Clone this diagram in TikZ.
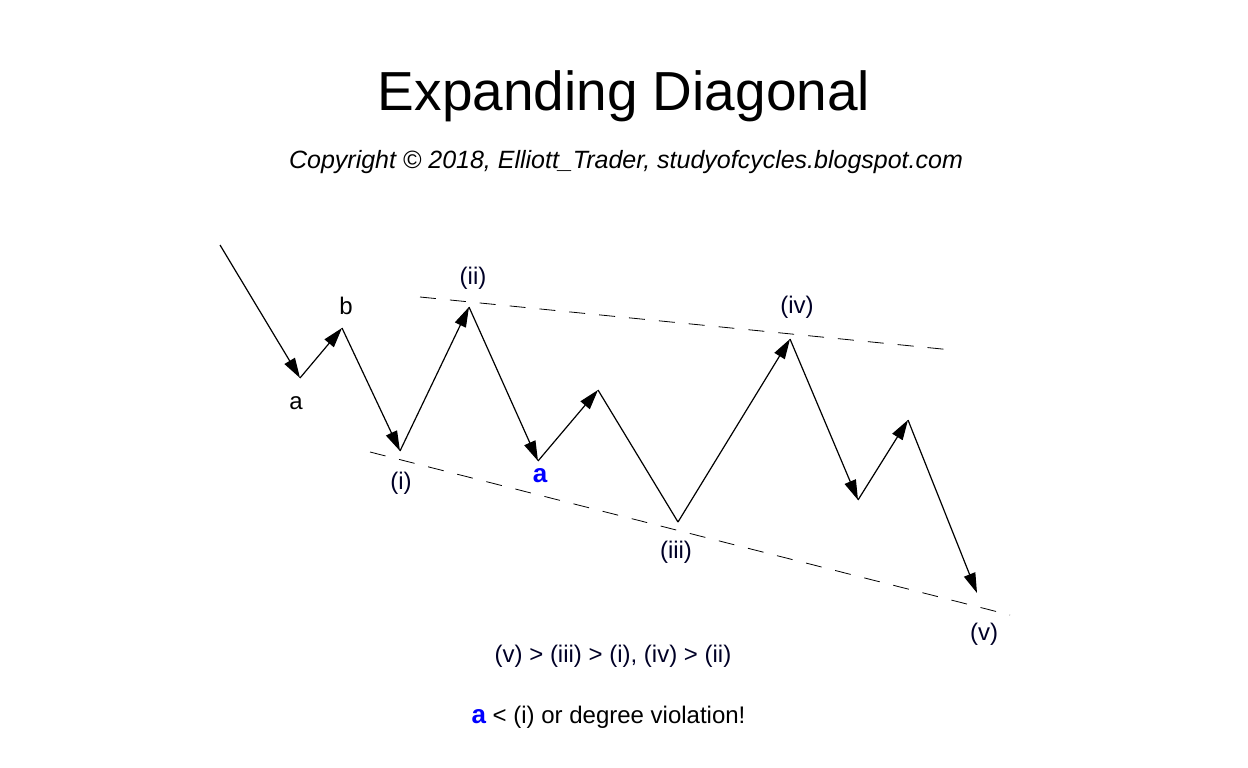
\documentclass[tikz,border=0pt]{standalone}
\usepackage{fontspec}
\setmainfont{Liberation Sans}
\usetikzlibrary{arrows.meta}
\begin{document}
\begin{tikzpicture}[x=1pt,y=-1pt,
  wave/.style={line width=1.2pt,-{Triangle[length=20pt,width=12pt]}},
  plain/.style={line width=1.2pt},
  chan/.style={line width=0.8pt,dash pattern=on 16pt off 14pt},
  lbl/.style={font=\fontsize{24}{28}\selectfont,text=black!85!blue},
  pt/.style={inner sep=0pt}]
\useasboundingbox (0,0) rectangle (1248,768);
\node (title) at (624,96) {\fontsize{55}{62}\selectfont Expanding Diagonal};
\node (copy) at (626,162) {\fontsize{25}{29}\selectfont\itshape Copyright © 2018, Elliott\_Trader, studyofcycles.blogspot.com};
\coordinate (s) at (220,245);
\coordinate (a) at (300,378);
\coordinate (b) at (342,328);
\coordinate (p1) at (400,451);
\coordinate (p2) at (469,307);
\coordinate (a2) at (538,461);
\coordinate (b2) at (598,390);
\coordinate (p3) at (678,522);
\coordinate (p4) at (790,339);
\coordinate (c1) at (858,500);
\coordinate (c2) at (908,420);
\coordinate (p5) at (977,593);
\draw[wave] (s) -- (a);
\draw[wave] (a) -- (b);
\draw[wave] (b) -- (p1);
\draw[wave] (p1) -- (p2);
\draw[wave] (p2) -- (a2);
\draw[wave] (a2) -- (b2);
\draw[plain] (b2) -- (p3);
\draw[wave] (p3) -- (p4);
\draw[wave] (p4) -- (c1);
\draw[wave] (c1) -- (c2);
\draw[wave] (c2) -- (p5);
\coordinate (u1) at (420,297);
\coordinate (u2) at (952,350);
\coordinate (l1) at (370,452);
\coordinate (l2) at (1010,615);
\draw[chan] (u1) -- (u2);
\draw[chan] (l1) -- (l2);
\node[lbl,text=black] (la) at (296,403) {a};
\node[lbl,text=black] (lb) at (346,306) {b};
\node[lbl] (li) at (401,483) {(i)};
\node[lbl] (lii) at (473,278) {(ii)};
\node[lbl,text=blue,font=\fontsize{26}{30}\selectfont\bfseries] (la2) at (540,476) {a};
\node[lbl] (liii) at (676,552) {(iii)};
\node[lbl] (liv) at (797,307) {(iv)};
\node[lbl] (lv) at (984,634) {(v)};
\node[lbl] (rule1) at (613,656) {(v) > (iii) > (i), (iv) > (ii)};
\node[lbl,anchor=west] (rule2) at (468,717) {{\color{blue}\bfseries\fontsize{26}{30}\selectfont a} {\color{black}< (i) or degree violation!}};
\end{tikzpicture}
\end{document}
